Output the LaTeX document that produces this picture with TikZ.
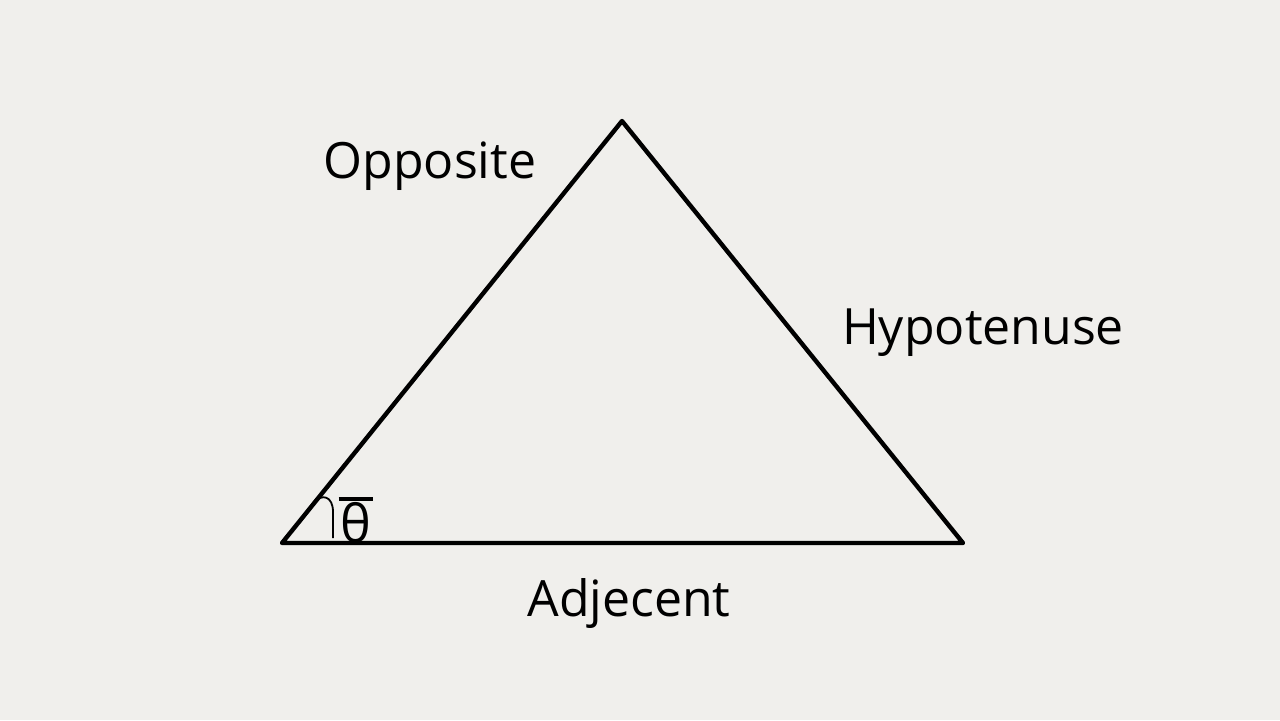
\documentclass[tikz,border=0pt]{standalone}
\usepackage{fontspec}
\setmainfont{Open Sans}
\definecolor{paper}{RGB}{240,239,236}
\tikzset{
  side/.style={line width=2.2pt, line join=round, line cap=round},
  lbl/.style={font=\fontsize{25}{30}\selectfont, inner sep=0pt}
}
\begin{document}
\begin{tikzpicture}[x=0.5pt, y=-0.5pt]
  \fill[paper] (0,0) rectangle (1280,720);
  \useasboundingbox (0,0) rectangle (1280,720);

  \coordinate (A) at (282,543);
  \coordinate (B) at (622,121);
  \coordinate (C) at (963,543);
  \draw[side] (A) -- (B) -- (C) -- cycle;

  % angle mark
  \coordinate (arcL) at (313,503);
  \coordinate (arcR) at (333,538);
  \draw[line width=0.9pt] (arcL) .. controls (322,493) and (333,496) .. (333,512) -- (arcR);
  \node[lbl, font=\fontsize{26}{30}\selectfont] (theta) at (356,520)
    {\makebox[0pt][l]{\hspace{-0.04em}\raisebox{0.8em}{\rule{0.66em}{0.075em}}}θ};

  \node[lbl] (opp) at (430,166) {Opposite};
  \node[lbl] (hyp) at (983,333) {Hypotenuse};
  \node[lbl] (adj) at (629,603) {Adjecent};
\end{tikzpicture}
\end{document}
